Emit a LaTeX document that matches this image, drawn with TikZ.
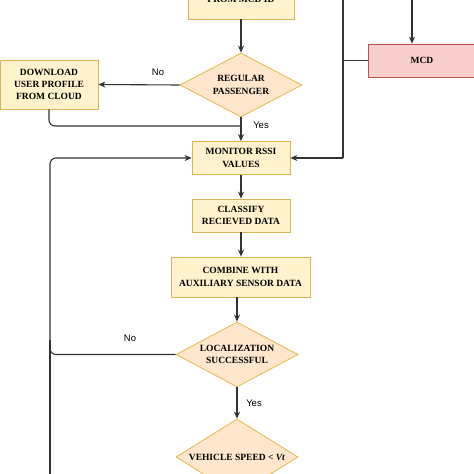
\documentclass[tikz,border=0pt]{standalone}
\usepackage{fontspec}
\setmainfont{Liberation Serif}
\newfontfamily\lblfont{Liberation Sans}
\usetikzlibrary{shapes.geometric,arrows.meta}
\definecolor{boxfill}{HTML}{FFF2CC}
\definecolor{boxdraw}{HTML}{D6B656}
\definecolor{decfill}{HTML}{FFE6CC}
\definecolor{decdraw}{HTML}{D79B00}
\definecolor{redfill}{HTML}{F8CECC}
\definecolor{reddraw}{HTML}{B85450}
\definecolor{linecol}{HTML}{333333}
\tikzset{
  procbox/.style={rectangle, draw=boxdraw, fill=boxfill, line width=0.8pt, align=center, inner sep=0pt,
    font=\fontsize{9.5}{12.3}\selectfont\bfseries},
  redbox/.style={rectangle, draw=reddraw, fill=redfill, line width=0.8pt, align=center, inner sep=0pt,
    font=\fontsize{9.5}{12.3}\selectfont\bfseries},
  decbox/.style={diamond, draw=decdraw!70, fill=decfill, line width=0.8pt, inner sep=0pt},
  dtext/.style={align=center, inner sep=0pt, font=\fontsize{9.5}{12.3}\selectfont\bfseries},
  conn/.style={draw=linecol, line width=1.1pt},
  arr/.style={conn, -{Stealth[length=7pt,width=6pt]}},
  lbl/.style={font=\lblfont\fontsize{9.5}{11}\selectfont, inner sep=0pt}
}
\begin{document}
\begin{tikzpicture}[x=1pt,y=-1pt]
\useasboundingbox (0,0) rectangle (474,474);
\clip (0,0) rectangle (474,474);
\fill[white] (0,0) rectangle (474,474);

% nodes
\node[procbox, minimum width=106pt, minimum height=40pt] (top) at (241,-1) {FROM MCD ID};
\node[decbox, minimum width=122pt, minimum height=64pt,
  label={[dtext]center:{REGULAR\\PASSENGER}}] (reg) at (241,85) {};
\node[procbox, minimum width=98pt, minimum height=49pt] (dl) at (49,84.5) {DOWNLOAD\\USER PROFILE\\FROM CLOUD};
\node[redbox, minimum width=108pt, minimum height=33pt] (mcd) at (422,60.5) {MCD};
\node[procbox, minimum width=98pt, minimum height=33pt] (mon) at (241,158) {MONITOR RSSI\\VALUES};
\node[procbox, minimum width=98pt, minimum height=33pt] (cls) at (241,215.5) {CLASSIFY\\RECIEVED DATA};
\node[procbox, minimum width=139pt, minimum height=40pt] (cmb) at (240.5,277) {COMBINE WITH\\AUXILIARY SENSOR DATA};
\node[decbox, minimum width=122pt, minimum height=65pt,
  label={[dtext]center:{LOCALIZATION\\SUCCESSFUL}}] (loc) at (237,354.5) {};
\node[decbox, minimum width=122pt, minimum height=76pt,
  label={[dtext]center:{VEHICLE SPEED < \textit{Vt}}}] (veh) at (237,457) {};

% helper coordinates
\coordinate (rtop) at (343,-10);
\coordinate (rcorner) at (343,158);
\coordinate (rjoin) at (343,60.5);
\coordinate (mcdtop) at (412,-10);
\coordinate (j1) at (240,126);
\coordinate (lcorner) at (50,158);
\coordinate (lbot) at (50,490);
\coordinate (lmid) at (50,340);

% connectors
\draw[arr] (top.south) -- (reg.north);
\draw[arr] (reg.west) -- (dl.east);
\draw[conn, rounded corners=6pt] (dl.south) |- (j1);
\draw[arr] (reg.south) -- (mon.north);
\draw[conn] (rtop) -- (rcorner);
\draw[arr] (rcorner) -- (mon.east);
\draw[conn] (mcd.west) -- (rjoin);
\draw[arr] (mcdtop) -- (mcdtop |- mcd.north);
\draw[arr] (mon.south) -- (cls.north);
\draw[arr] (cls.south) -- (cls.south |- cmb.north);
\draw[arr] (cmb.south -| loc.north) -- (loc.north);
\draw[arr] (loc.south) -- (veh.north);
\draw[arr, rounded corners=6pt] (loc.west) -| (lcorner) -- (mon.west);
\draw[conn] (lbot) -- (lmid);

% labels
\node[lbl] (no1) at (158,72) {No};
\node[lbl] (yes1) at (261,125) {Yes};
\node[lbl] (no2) at (130,338) {No};
\node[lbl] (yes2) at (254,403) {Yes};
\end{tikzpicture}
\end{document}
